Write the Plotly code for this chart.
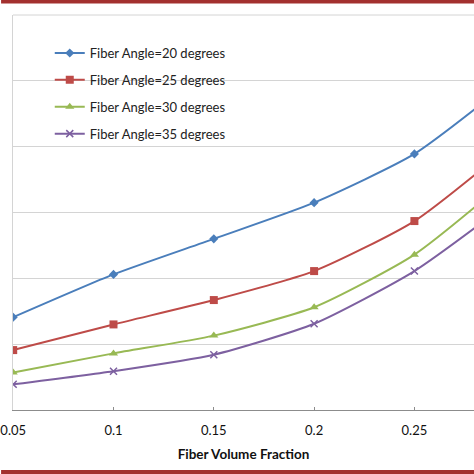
import plotly.graph_objects as go

# fiber volume fraction (the chart is cropped just before 0.3)
fraction = [0.05, 0.10, 0.15, 0.20, 0.25, 0.30]

# values (y axis labels are cropped, one gridline = 1 unit)
angle_20 = [1.41, 2.06, 2.60, 3.15, 3.89, 5.05]
angle_25 = [0.91, 1.30, 1.67, 2.11, 2.87, 4.07]
angle_30 = [0.57, 0.86, 1.13, 1.56, 2.36, 3.59]
angle_35 = [0.39, 0.59, 0.84, 1.31, 2.11, 3.22]

names = ["Fiber Angle=20 degrees", "Fiber Angle=25 degrees",
         "Fiber Angle=30 degrees", "Fiber Angle=35 degrees"]
series = [angle_20, angle_25, angle_30, angle_35]
colors = ["#4A7EBB", "#BE4B48", "#98B954", "#7D60A0"]
symbols = ["diamond", "square", "triangle-up", "x-thin"]
sizes = [7, 8, 8, 7]

W, H = 474, 474
ml, mr, mt, mb = 10, 0, 15, 64
pw = W - ml - mr
ph = H - mt - mb


def px_x(px):
    return (px - ml) / pw


def px_y(py):
    return (H - mb - py) / ph


fig = go.Figure()
for name, vals, col, sym, sz in zip(names, series, colors, symbols, sizes):
    fig.add_trace(go.Scatter(
        x=fraction, y=vals, name=name, legendgroup=name,
        mode="lines+markers",
        line=dict(color=col, width=2, shape="spline", smoothing=0.6),
        marker=dict(symbol=sym, size=sz, color=col,
                    line=dict(color=col, width=1.5 if sym == "x-thin" else 0)),
    ))

# dark red band at top and bottom of the image
for y0, y1 in [(0, 3.5), (470, 474)]:
    fig.add_shape(type="rect", xref="paper", yref="paper",
                  x0=px_x(-2), x1=px_x(W + 2), y0=px_y(y1), y1=px_y(y0),
                  fillcolor="#A3302F", line_width=0, layer="above")

# white box behind the legend, hides the gridline there
fig.add_shape(type="rect", xref="paper", yref="paper",
              x0=px_x(56), x1=px_x(228), y0=px_y(142), y1=px_y(40),
              fillcolor="white", line_width=0, layer="between")

# top border of the plot area
fig.add_shape(type="line", xref="paper", yref="paper", x0=0, x1=1, y0=1, y1=1,
              line=dict(color="#D4D4D4", width=1))

fig.update_layout(
    width=W, height=H,
    margin=dict(l=ml, r=mr, t=mt, b=mb),
    paper_bgcolor="white", plot_bgcolor="white",
    font=dict(family="Lato, Open Sans, sans-serif", size=13, color="#222"),
    showlegend=True,
    legend=dict(x=px_x(47), y=px_y(38), xanchor="left", yanchor="top",
                bgcolor="rgba(0,0,0,0)", font=dict(size=13, color="#222"),
                traceorder="grouped", tracegroupgap=7, itemwidth=30),
    xaxis=dict(range=[0.0499, 0.05 + 0.05 * pw / 101],
               tickvals=[0.05, 0.1, 0.15, 0.2, 0.25],
               ticktext=["0.05", "0.1", "0.15", "0.2", "0.25"],
               showgrid=False, zeroline=False,
               showline=True, linecolor="#8C8C8C", linewidth=1,
               ticks="inside", ticklen=3, tickcolor="#8C8C8C",
               ticklabeloverflow="allow", ticklabelstandoff=8,
               tickfont=dict(size=13, color="#111"),
               title=dict(text="<b>Fiber Volume Fraction</b>",
                          font=dict(size=13.5, color="#111"), standoff=12)),
    yaxis=dict(range=[0, 6], dtick=1, showticklabels=False,
               showgrid=True, gridcolor="#D4D4D4", gridwidth=1,
               zeroline=False, showline=True, linecolor="#D4D4D4", linewidth=1),
)

fig.write_html("out.html", config={"displayModeBar": False},
               post_script="document.body.style.margin='0';")
